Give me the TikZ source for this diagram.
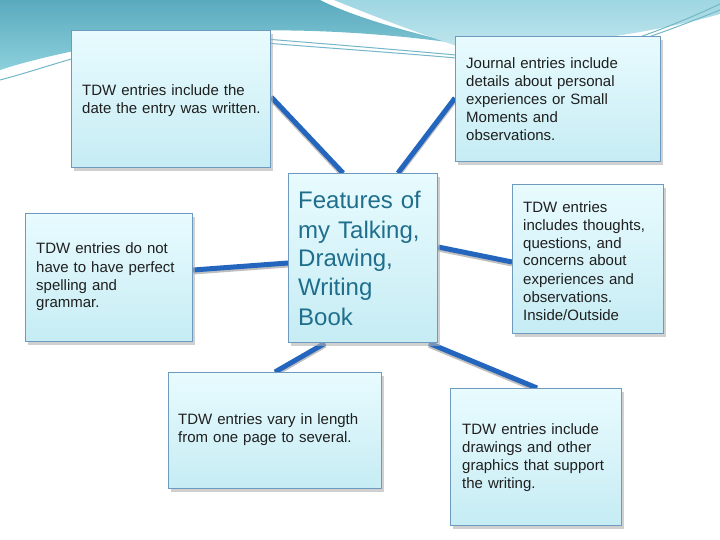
\documentclass[tikz,border=0pt]{standalone}
\usepackage{fontspec}
\setmainfont{Liberation Sans}
\usetikzlibrary{positioning, calc, shadows, backgrounds}
\definecolor{boxtop}{HTML}{E8FBFE}
\definecolor{boxbottom}{HTML}{C6ECF4}
\definecolor{boxline}{HTML}{6E9AC0}
\definecolor{linkblue}{HTML}{2466BE}
\definecolor{hubteal}{HTML}{1F6E8C}
\definecolor{swooshdark}{HTML}{5AAABE}
\definecolor{swooshmid}{HTML}{8CD0DB}
\definecolor{swooshlight}{HTML}{9ED6E2}
\definecolor{swooshpale}{HTML}{C0E6ED}
\tikzset{
        feature-box/.style={
            rectangle, draw=boxline, line width=1.2pt, anchor=north west, inner sep=0pt,
            top color=boxtop, bottom color=boxbottom,
            drop shadow={shadow xshift=2pt, shadow yshift=-3pt, fill=black!30, opacity=0.6}
        },
        feature-text/.style={
            anchor=base west, inner sep=0pt, align=left, text width=#1,
            font=\fontsize{15}{18}\selectfont, text=black!88
        },
        hub-text/.style={
            anchor=base west, inner sep=0pt, align=left, text width=135pt,
            font=\fontsize{24}{29}\selectfont, text=hubteal
        },
        link/.style={
            line width=5pt, draw=linkblue,
            preaction={draw=black!25, line width=5pt, transform canvas={yshift=-2pt}}
        },
        swoosh-line/.style={draw=swooshdark!85, line width=1pt},
}
\begin{document}
\begin{tikzpicture}[x=1pt, y=-1pt]

        % BACKGROUND SWOOSHES
        \useasboundingbox (0,0) rectangle (720,540);
        \begin{scope}[on background layer]
        \fill[white] (0,0) rectangle (720,540);
        \shade[top color=swooshdark, bottom color=swooshmid]
            (0,0) -- (320,0) .. controls (352,16) and (400,30) .. (455,43)
            .. controls (360,30) and (240,24) .. (130,40)
            .. controls (75,50) and (30,60) .. (0,70) -- cycle;
        \shade[top color=swooshlight, bottom color=swooshpale]
            (334,0) -- (720,0) -- (720,14) .. controls (650,34) and (560,46) .. (466,49)
            .. controls (420,34) and (368,14) .. (334,0) -- cycle;
        \draw[swoosh-line] (0,80) .. controls (30,72) and (50,65) .. (75,58);
        \draw[swoosh-line] (265,39) .. controls (340,45) and (400,50) .. (456,55);
        \draw[swoosh-line] (265,43) .. controls (340,49) and (400,53) .. (456,58);
        \draw[swoosh-line] (600,50) .. controls (650,35) and (690,18) .. (720,4);
        \draw[swoosh-line] (615,48) .. controls (660,34) and (695,20) .. (720,10);
        \end{scope}

        % DRAW BOXES
        \node[feature-box, minimum width=199pt, minimum height=137pt] (DATE)     at (71,30)   {};
        \node[feature-box, minimum width=205pt, minimum height=125pt] (JOURNAL)  at (455,36)  {};
        \node[feature-box, minimum width=149pt, minimum height=169pt] (HUB)      at (288,173) {};
        \node[feature-box, minimum width=167pt, minimum height=128pt] (SPELL)    at (25,213)  {};
        \node[feature-box, minimum width=151pt, minimum height=149pt] (THOUGHTS) at (512,184) {};
        \node[feature-box, minimum width=213pt, minimum height=116pt] (LENGTH)   at (168,372) {};
        \node[feature-box, minimum width=171pt, minimum height=137pt] (DRAWINGS) at (450,388) {};

        % DRAW TEXTS
        \node[feature-text=185pt] (DATE-TXT)     at ($(DATE.north west)+(11,66)$)
            {TDW entries include the\\date the entry was written.};
        \node[feature-text=190pt] (JOURNAL-TXT)  at ($(JOURNAL.north west)+(11,33)$)
            {Journal entries include\\details about personal\\experiences or Small\\Moments and\\observations.};
        \node[hub-text]           (HUB-TXT)      at ($(HUB.north west)+(10,36)$)
            {Features of\\my Talking,\\Drawing,\\Writing\\Book};
        \node[feature-text=155pt] (SPELL-TXT)    at ($(SPELL.north west)+(11,41)$)
            {TDW entries do not\\have to have perfect\\spelling and\\grammar.};
        \node[feature-text=140pt] (THOUGHTS-TXT) at ($(THOUGHTS.north west)+(11,28)$)
            {TDW entries\\includes thoughts,\\questions, and\\concerns about\\experiences and\\observations.\\Inside/Outside};
        \node[feature-text=200pt] (LENGTH-TXT)   at ($(LENGTH.north west)+(10,52)$)
            {TDW entries vary in length\\from one page to several.};
        \node[feature-text=160pt] (DRAWINGS-TXT) at ($(DRAWINGS.north west)+(12,46)$)
            {TDW entries include\\drawings and other\\graphics that support\\the writing.};

        % CONNECT HUB TO BOXES
        \begin{scope}[on background layer]
        \draw[link] ($(HUB.north west)+(55,0)$)  -- ($(DATE.north east)+(0,67)$);
        \draw[link] ($(HUB.north west)+(110,0)$) -- ($(JOURNAL.north west)+(0,62)$);
        \draw[link] ($(HUB.north east)+(0,74)$)  -- ($(THOUGHTS.north west)+(0,78)$);
        \draw[link] ($(HUB.north west)+(0,90)$)  -- ($(SPELL.north east)+(0,57)$);
        \draw[link] ($(HUB.south west)+(37,0)$)  -- ($(LENGTH.north west)+(107,0)$);
        \draw[link] ($(HUB.south west)+(141,0)$) -- ($(DRAWINGS.north west)+(87,0)$);
        \end{scope}

\end{tikzpicture}
\end{document}
